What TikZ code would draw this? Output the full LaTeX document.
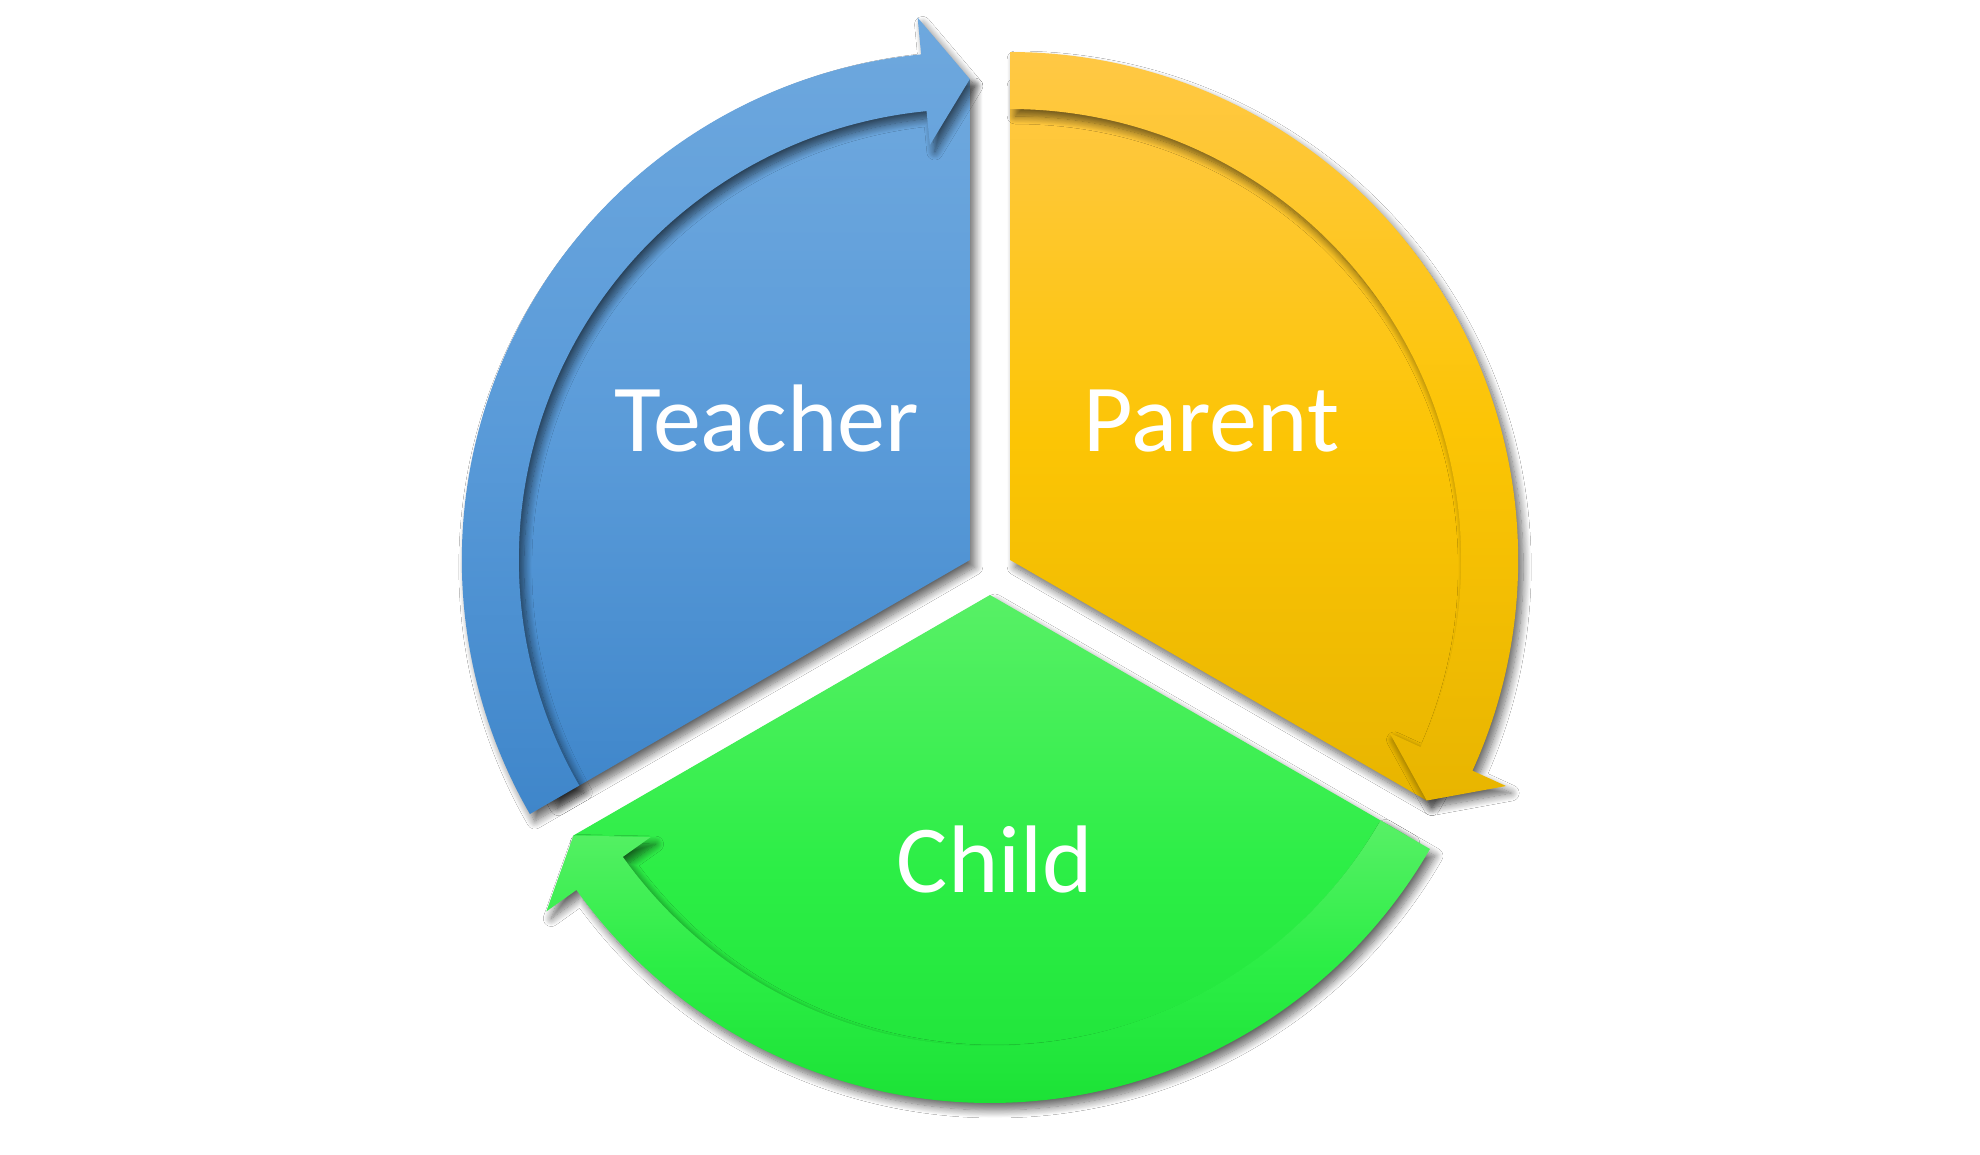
\documentclass[tikz,border=0pt]{standalone}
\usepackage{fontspec}
\setmainfont{Carlito}
\usetikzlibrary{shadows.blur}
\definecolor{bluetop}{HTML}{6EA8DE}
\definecolor{bluemid}{HTML}{5A9BD9}
\definecolor{bluebot}{HTML}{3F86CA}
\definecolor{yeltop}{HTML}{FFC845}
\definecolor{yelmid}{HTML}{FCC505}
\definecolor{yelbot}{HTML}{E8B500}
\definecolor{grntop}{HTML}{58F066}
\definecolor{grnmid}{HTML}{2CEE46}
\definecolor{grnbot}{HTML}{1CE236}
\tikzset{
  segshadow/.style={blur shadow={shadow xshift=5pt, shadow yshift=-7pt, shadow blur radius=8pt, shadow blur steps=12, shadow opacity=60}},
  seglabel/.style={text=white, font=\fontsize{96}{115}\selectfont, anchor=base, inner sep=0pt}
}
\newcommand\cyclesegment[4]{%
  \pgfmathsetmacro\segS{#1+60}\pgfmathsetmacro\segE{#1-60}\pgfmathsetmacro\segH{#1-54.5}%
  \pgfmathsetmacro\segX{990+23.3*cos(#1)}\pgfmathsetmacro\segY{583.3+23.3*sin(#1)}%
  \begin{scope}[shift={(\segX pt,\segY pt)}]
    \path[segshadow, top color=#2, bottom color=#4, middle color=#3] (0,0) -- (\segS:481pt) arc[start angle=\segS, end angle=\segE, radius=481pt] -- cycle;
    \path[segshadow, top color=#2, bottom color=#4, middle color=#3] (\segS:451pt) -- (\segS:508pt) arc[start angle=\segS, end angle=\segH, radius=508pt] -- (\segH:545pt) -- (\segE:481pt) -- (\segH:417pt) -- (\segH:451pt) arc[start angle=\segH, end angle=\segS, radius=451pt] -- cycle;
  \end{scope}}
\begin{document}
\begin{tikzpicture}[x=1pt,y=1pt]
  \fill[white] (0,0) rectangle (1980,1155);
  \useasboundingbox (0,0) rectangle (1980,1155);
  \cyclesegment{150}{bluetop}{bluemid}{bluebot}
  \cyclesegment{30}{yeltop}{yelmid}{yelbot}
  \cyclesegment{-90}{grntop}{grnmid}{grnbot}
  \node[seglabel] (teacher) at (767,703) {Teacher};
  \node[seglabel] (parent) at (1211.5,703) {Parent};
  \node[seglabel] (child) at (995,262) {Child};
\end{tikzpicture}
\end{document}
